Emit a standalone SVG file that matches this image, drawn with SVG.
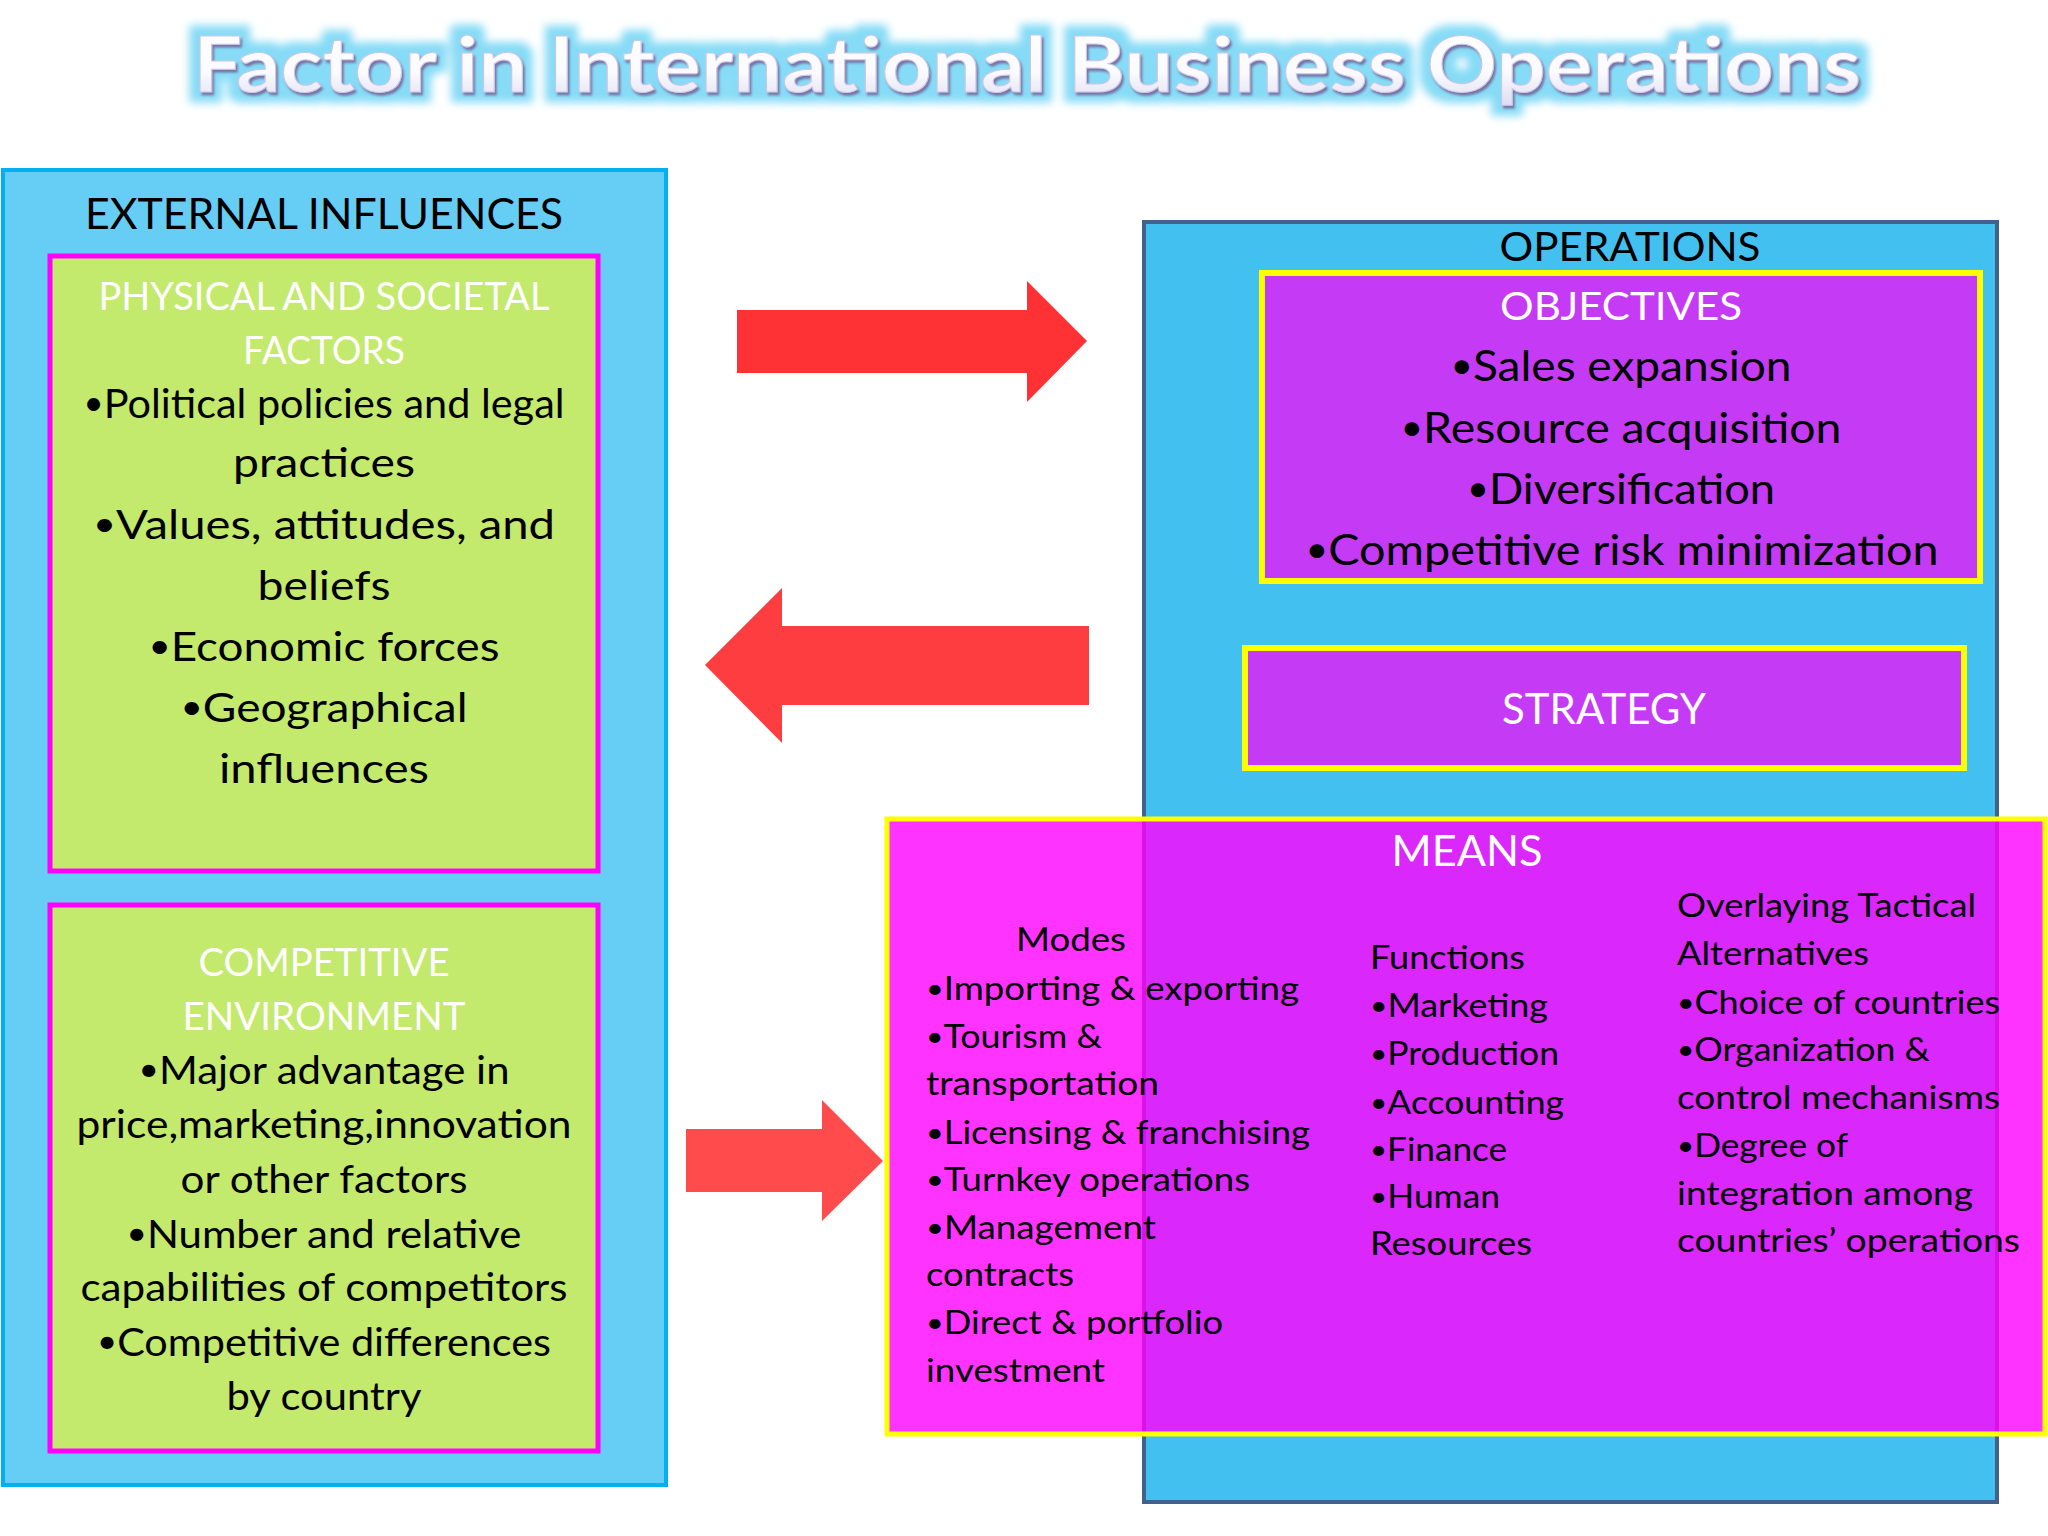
<svg xmlns="http://www.w3.org/2000/svg" width="2048" height="1536" viewBox="0 0 2048 1536">
<defs>
<style>
text{font-family:Lato,"Open Sans","Liberation Sans",sans-serif;}
.c{text-anchor:middle;}
.blk{fill:#000000;}
.wht{fill:#ffffff;}
.l41{font-size:41px;}
.l39{font-size:39px;}
.h38{font-size:38px;fill:#ffffff;}
.o43{font-size:43px;}
.m33{font-size:33px;fill:#000000;}
.b{font-size:84%;baseline-shift:0.09em;}
.arrow{stroke:none;}
</style>
<linearGradient id="tg" x1="0" y1="0" x2="0" y2="1">
<stop offset="0" stop-color="#ffffff"/>
<stop offset="0.6" stop-color="#fbfbff"/>
<stop offset="1" stop-color="#dcdaf0"/>
</linearGradient>
<filter id="glow" x="-5%" y="-60%" width="110%" height="220%">
<feMorphology in="SourceAlpha" operator="dilate" radius="10" result="d"/>
<feGaussianBlur in="d" stdDeviation="4" result="db"/>
<feFlood flood-color="#86dbf6"/>
<feComposite in2="db" operator="in" result="g"/>
<feOffset in="SourceAlpha" dx="1.5" dy="3" result="o"/>
<feGaussianBlur in="o" stdDeviation="1.2" result="ob"/>
<feFlood flood-color="#7874a8"/>
<feComposite in2="ob" operator="in" result="s"/>
<feMerge><feMergeNode in="g"/><feMergeNode in="s"/><feMergeNode in="SourceGraphic"/></feMerge>
</filter>
</defs>
<rect x="0" y="0" width="2048" height="1536" fill="#ffffff"/>

<g id="title">
<text x="1027" y="92" class="c" font-size="76" font-weight="700" fill="url(#tg)" stroke="#c9c6e6" stroke-width="1" textLength="1668" lengthAdjust="spacingAndGlyphs" filter="url(#glow)">Factor in International Business Operations</text>
</g>

<g id="external-influences">
<rect x="3" y="170" width="663" height="1315" fill="#66cdf5" stroke="#00b0f0" stroke-width="4"/>
<text x="324" y="229" class="c blk" font-size="43" textLength="478" lengthAdjust="spacingAndGlyphs">EXTERNAL INFLUENCES</text>
</g>

<g id="physical-societal">
<rect x="50" y="256" width="548" height="615" fill="#c3e96d" stroke="#ff00ff" stroke-width="5"/>
<text x="324" y="310" class="c h38" textLength="451" lengthAdjust="spacingAndGlyphs">PHYSICAL AND SOCIETAL</text>
<text x="324" y="364" class="c h38" textLength="162" lengthAdjust="spacingAndGlyphs">FACTORS</text>
<text x="324" y="418" class="c blk l41" textLength="481" lengthAdjust="spacingAndGlyphs"><tspan class="b">•</tspan>Political policies and legal</text>
<text x="324" y="477" class="c blk l41" textLength="182" lengthAdjust="spacingAndGlyphs">practices</text>
<text x="324" y="539" class="c blk l41" textLength="462" lengthAdjust="spacingAndGlyphs"><tspan class="b">•</tspan>Values, attitudes, and</text>
<text x="324" y="600" class="c blk l41" textLength="133" lengthAdjust="spacingAndGlyphs">beliefs</text>
<text x="324" y="661" class="c blk l41" textLength="351" lengthAdjust="spacingAndGlyphs"><tspan class="b">•</tspan>Economic forces</text>
<text x="324" y="722" class="c blk l41" textLength="287" lengthAdjust="spacingAndGlyphs"><tspan class="b">•</tspan>Geographical</text>
<text x="324" y="783" class="c blk l41" textLength="210" lengthAdjust="spacingAndGlyphs">influences</text>
</g>

<g id="competitive-environment">
<rect x="50" y="905" width="548" height="546" fill="#c3e96d" stroke="#ff00ff" stroke-width="5"/>
<text x="324" y="976" class="c h38" textLength="251" lengthAdjust="spacingAndGlyphs">COMPETITIVE</text>
<text x="324" y="1030" class="c h38" textLength="283" lengthAdjust="spacingAndGlyphs">ENVIRONMENT</text>
<text x="324" y="1084" class="c blk l39" textLength="371" lengthAdjust="spacingAndGlyphs"><tspan class="b">•</tspan>Major advantage in</text>
<text x="324" y="1138" class="c blk l39" textLength="495" lengthAdjust="spacingAndGlyphs">price,marketing,innovation</text>
<text x="324" y="1193" class="c blk l39" textLength="287" lengthAdjust="spacingAndGlyphs">or other factors</text>
<text x="324" y="1248" class="c blk l39" textLength="395" lengthAdjust="spacingAndGlyphs"><tspan class="b">•</tspan>Number and relative</text>
<text x="324" y="1301" class="c blk l39" textLength="487" lengthAdjust="spacingAndGlyphs">capabilities of competitors</text>
<text x="324" y="1356" class="c blk l39" textLength="454" lengthAdjust="spacingAndGlyphs"><tspan class="b">•</tspan>Competitive differences</text>
<text x="324" y="1410" class="c blk l39" textLength="195" lengthAdjust="spacingAndGlyphs">by country</text>
</g>

<g id="operations">
<rect x="1144" y="222" width="853" height="1280" fill="#42c1f0" stroke="#41628d" stroke-width="4"/>
<text x="1630" y="261" class="c blk" font-size="40" textLength="261" lengthAdjust="spacingAndGlyphs">OPERATIONS</text>
</g>

<g id="objectives">
<rect x="1262" y="273" width="718" height="308" fill="#c53bf5" stroke="#ffff00" stroke-width="6"/>
<text x="1621" y="320" class="c wht" font-size="38" textLength="242" lengthAdjust="spacingAndGlyphs">OBJECTIVES</text>
<text x="1621" y="381" class="c blk o43" textLength="341" lengthAdjust="spacingAndGlyphs"><tspan class="b">•</tspan>Sales expansion</text>
<text x="1621" y="443" class="c blk o43" textLength="441" lengthAdjust="spacingAndGlyphs"><tspan class="b">•</tspan>Resource acquisition</text>
<text x="1621" y="504" class="c blk o43" textLength="308" lengthAdjust="spacingAndGlyphs"><tspan class="b">•</tspan>Diversification</text>
<text x="1622" y="565" class="c blk o43" textLength="633" lengthAdjust="spacingAndGlyphs"><tspan class="b">•</tspan>Competitive risk minimization</text>
</g>

<g id="strategy">
<rect x="1245" y="648" width="719" height="120" fill="#c53bf5" stroke="#ffff00" stroke-width="6"/>
<text x="1604" y="724" class="c wht" font-size="42" textLength="204" lengthAdjust="spacingAndGlyphs">STRATEGY</text>
</g>

<g id="means">
<rect x="887" y="819" width="1158" height="615" fill="#ff00ff" fill-opacity="0.8" stroke="#ffff00" stroke-width="5"/>
<text x="1467" y="866" class="c wht" font-size="42" textLength="151" lengthAdjust="spacingAndGlyphs">MEANS</text>
<text x="1016" y="951" class="m33" textLength="110" lengthAdjust="spacingAndGlyphs">Modes</text>
<text x="926" y="1000" class="m33" textLength="373" lengthAdjust="spacingAndGlyphs"><tspan class="b">•</tspan>Importing &amp; exporting</text>
<text x="926" y="1048" class="m33" textLength="176" lengthAdjust="spacingAndGlyphs"><tspan class="b">•</tspan>Tourism &amp;</text>
<text x="926" y="1095" class="m33" textLength="233" lengthAdjust="spacingAndGlyphs">transportation</text>
<text x="926" y="1144" class="m33" textLength="384" lengthAdjust="spacingAndGlyphs"><tspan class="b">•</tspan>Licensing &amp; franchising</text>
<text x="926" y="1191" class="m33" textLength="324" lengthAdjust="spacingAndGlyphs"><tspan class="b">•</tspan>Turnkey operations</text>
<text x="926" y="1239" class="m33" textLength="230" lengthAdjust="spacingAndGlyphs"><tspan class="b">•</tspan>Management</text>
<text x="926" y="1286" class="m33" textLength="148" lengthAdjust="spacingAndGlyphs">contracts</text>
<text x="926" y="1334" class="m33" textLength="297" lengthAdjust="spacingAndGlyphs"><tspan class="b">•</tspan>Direct &amp; portfolio</text>
<text x="926" y="1382" class="m33" textLength="179" lengthAdjust="spacingAndGlyphs">investment</text>
<text x="1370" y="969" class="m33" textLength="155" lengthAdjust="spacingAndGlyphs">Functions</text>
<text x="1370" y="1017" class="m33" textLength="178" lengthAdjust="spacingAndGlyphs"><tspan class="b">•</tspan>Marketing</text>
<text x="1370" y="1065" class="m33" textLength="189" lengthAdjust="spacingAndGlyphs"><tspan class="b">•</tspan>Production</text>
<text x="1370" y="1114" class="m33" textLength="194" lengthAdjust="spacingAndGlyphs"><tspan class="b">•</tspan>Accounting</text>
<text x="1370" y="1161" class="m33" textLength="137" lengthAdjust="spacingAndGlyphs"><tspan class="b">•</tspan>Finance</text>
<text x="1370" y="1208" class="m33" textLength="130" lengthAdjust="spacingAndGlyphs"><tspan class="b">•</tspan>Human</text>
<text x="1370" y="1255" class="m33" textLength="162" lengthAdjust="spacingAndGlyphs">Resources</text>
<text x="1677" y="917" class="m33" textLength="299" lengthAdjust="spacingAndGlyphs">Overlaying Tactical</text>
<text x="1677" y="965" class="m33" textLength="192" lengthAdjust="spacingAndGlyphs">Alternatives</text>
<text x="1677" y="1014" class="m33" textLength="323" lengthAdjust="spacingAndGlyphs"><tspan class="b">•</tspan>Choice of countries</text>
<text x="1677" y="1061" class="m33" textLength="253" lengthAdjust="spacingAndGlyphs"><tspan class="b">•</tspan>Organization &amp;</text>
<text x="1677" y="1109" class="m33" textLength="323" lengthAdjust="spacingAndGlyphs">control mechanisms</text>
<text x="1677" y="1157" class="m33" textLength="171" lengthAdjust="spacingAndGlyphs"><tspan class="b">•</tspan>Degree of</text>
<text x="1677" y="1205" class="m33" textLength="296" lengthAdjust="spacingAndGlyphs">integration among</text>
<text x="1677" y="1252" class="m33" textLength="343" lengthAdjust="spacingAndGlyphs">countries’ operations</text>
</g>

<g id="connectors">
<polygon class="arrow" fill="#fe3234" points="737,310 1027,310 1027,281 1087,341 1027,402 1027,373 737,373"/>
<polygon class="arrow" fill="#fe3d40" points="705,665 782,588 782,626 1089,626 1089,705 782,705 782,743"/>
<polygon class="arrow" fill="#ff4b4b" points="686,1129 822,1129 822,1100 883,1161 822,1221 822,1192 686,1192"/>
</g>
</svg>
